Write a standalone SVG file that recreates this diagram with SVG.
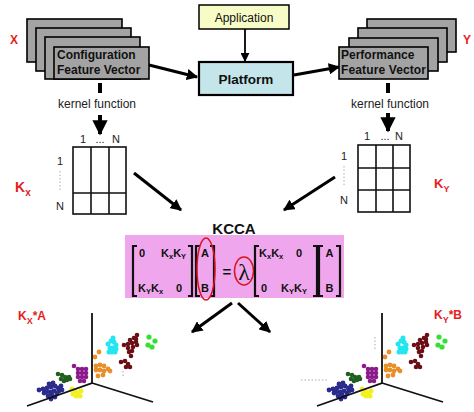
<svg xmlns="http://www.w3.org/2000/svg" xmlns:xlink="http://www.w3.org/1999/xlink" width="474" height="412" viewBox="0 0 474 412">
<style>
  text { font-family: "Liberation Sans", Arial, sans-serif; }
  .stk { fill: #a3a3a3; stroke: #000; stroke-width: 1.6; }
  .lbl { font-size: 12px; font-weight: bold; fill: #111; }
  .red { fill: #e41e1e; font-weight: bold; }
  .kf { font-size: 12px; fill: #222; }
  .idx { font-size: 11px; fill: #222; }
  .mx { font-size: 11px; font-weight: bold; fill: #111; }
  .sub { font-size: 7.5px; font-weight: bold; }
  .br { fill: none; stroke: #111; stroke-width: 2.2; }
  .grid { fill: #fff; stroke: #111; stroke-width: 1.6; }
  .conn { stroke: #000; stroke-width: 3; fill: none; }
  .thick { stroke: #000; stroke-width: 4; fill: none; }
  .ax { stroke: #111; stroke-width: 1.8; fill: none; }
  .dot { stroke: none; }
  .dotted { stroke: #aaa; stroke-width: 1; stroke-dasharray: 1.5 2; fill: none; }
</style>
<defs>
  <marker id="ah" viewBox="0 0 10 10" refX="9" refY="5" markerWidth="3.8" markerHeight="3.8" orient="auto" markerUnits="strokeWidth">
    <path d="M0,0 L10,5 L0,10 Z" fill="#000"/>
  </marker>
  <marker id="ahs" viewBox="0 0 10 10" refX="9" refY="5" markerWidth="5" markerHeight="5" orient="auto" markerUnits="strokeWidth">
    <path d="M0,0 L10,5 L0,10 Z" fill="#000"/>
  </marker>
  <g id="scatter">
    <g fill="#2b2b8c" class="dot">
      <circle cx="39" cy="390" r="2.4"/><circle cx="43" cy="389" r="2.4"/><circle cx="47" cy="388" r="2.4"/><circle cx="51" cy="387" r="2.4"/>
      <circle cx="49" cy="384" r="2.4"/><circle cx="53" cy="383" r="2.4"/><circle cx="55" cy="386" r="2.4"/><circle cx="58" cy="388" r="2.4"/>
      <circle cx="61" cy="386" r="2.4"/><circle cx="46" cy="392" r="2.4"/><circle cx="50" cy="392" r="2.4"/><circle cx="54" cy="391" r="2.4"/>
      <circle cx="57" cy="393" r="2.4"/><circle cx="52" cy="395" r="2.4"/><circle cx="48" cy="396" r="2.4"/><circle cx="55" cy="397" r="2.4"/>
      <circle cx="51" cy="399" r="2.4"/><circle cx="44" cy="393" r="2.4"/><circle cx="59" cy="391" r="2.4"/><circle cx="62" cy="390" r="2.4"/>
    </g>
    <g fill="#f2f020" class="dot">
      <circle cx="72" cy="389" r="2.5"/><circle cx="75" cy="391" r="2.5"/><circle cx="78" cy="393" r="2.5"/><circle cx="80" cy="396" r="2.5"/>
      <circle cx="76" cy="396" r="2.5"/><circle cx="73" cy="394" r="2.5"/><circle cx="81" cy="391" r="2.5"/>
    </g>
    <g fill="#1f5f1f" class="dot">
      <circle cx="58" cy="374" r="2.3"/><circle cx="62" cy="375" r="2.3"/><circle cx="65" cy="377" r="2.3"/><circle cx="61" cy="379" r="2.3"/>
      <circle cx="67" cy="380" r="2.3"/><circle cx="70" cy="379" r="2.3"/><circle cx="64" cy="381" r="2.3"/><circle cx="69" cy="377" r="2.3"/>
    </g>
    <g fill="#8b1a8b" class="dot">
      <circle cx="74" cy="366" r="2.3"/>
      <circle cx="78" cy="369" r="2.3"/><circle cx="82" cy="369" r="2.3"/><circle cx="86" cy="369" r="2.3"/>
      <circle cx="78" cy="373" r="2.3"/><circle cx="82" cy="373" r="2.3"/><circle cx="86" cy="373" r="2.3"/>
      <circle cx="78" cy="377" r="2.3"/><circle cx="82" cy="377" r="2.3"/><circle cx="86" cy="377" r="2.3"/>
      <circle cx="80" cy="381" r="2.3"/><circle cx="84" cy="381" r="2.3"/>
    </g>
    <g fill="#e89028" class="dot">
      <circle cx="95" cy="357" r="2.4"/><circle cx="99" cy="352" r="2.4"/><circle cx="96" cy="366" r="2.4"/><circle cx="100" cy="365" r="2.4"/>
      <circle cx="104" cy="366" r="2.4"/><circle cx="108" cy="369" r="2.4"/><circle cx="96" cy="370" r="2.4"/><circle cx="100" cy="370" r="2.4"/>
      <circle cx="104" cy="371" r="2.4"/><circle cx="110" cy="371" r="2.4"/><circle cx="98" cy="376" r="2.4"/><circle cx="103" cy="375" r="2.4"/>
    </g>
    <g fill="#22e6f2" class="dot">
      <circle cx="108" cy="344" r="2.5"/><circle cx="111" cy="341" r="2.5"/><circle cx="114" cy="342" r="2.5"/><circle cx="116" cy="345" r="2.5"/>
      <circle cx="110" cy="348" r="2.5"/><circle cx="113" cy="348" r="2.5"/><circle cx="116" cy="349" r="2.5"/><circle cx="109" cy="352" r="2.5"/>
      <circle cx="112" cy="352" r="2.5"/><circle cx="115" cy="352" r="2.5"/><circle cx="113" cy="338" r="2.5"/>
    </g>
    <g fill="#6b0f14" class="dot">
      <circle cx="124" cy="345" r="2.3"/><circle cx="128" cy="344" r="2.3"/><circle cx="132" cy="343" r="2.3"/><circle cx="136" cy="342" r="2.3"/>
      <circle cx="130" cy="340" r="2.3"/><circle cx="134" cy="338" r="2.3"/><circle cx="137" cy="335" r="2.3"/><circle cx="128" cy="348" r="2.3"/>
      <circle cx="133" cy="347" r="2.3"/><circle cx="137" cy="345" r="2.3"/><circle cx="129" cy="352" r="2.3"/><circle cx="132" cy="351" r="2.3"/>
      <circle cx="131" cy="356" r="2.3"/><circle cx="121" cy="362" r="2.3"/><circle cx="125" cy="361" r="2.3"/><circle cx="128" cy="364" r="2.3"/>
      <circle cx="130" cy="367" r="2.3"/><circle cx="126" cy="367" r="2.3"/><circle cx="136" cy="339" r="2.3"/>
    </g>
    <g fill="#35e035" class="dot">
      <circle cx="149" cy="337" r="2.6"/><circle cx="155" cy="341" r="2.6"/><circle cx="148" cy="345" r="2.6"/><circle cx="152" cy="347" r="2.6"/>
    </g>
    <path class="ax" d="M92,313 V383 L27,406 M92,383 L153,402"/>
  </g>
</defs>
<rect width="474" height="412" fill="#fff"/>

<g id="connectors">
  <line class="conn" x1="149" y1="65" x2="197" y2="77" marker-end="url(#ah)"/>
  <line class="conn" x1="294" y1="75" x2="339" y2="67" marker-end="url(#ah)"/>
  <line stroke="#000" stroke-width="1.8" x1="245" y1="29" x2="245" y2="61" marker-end="url(#ahs)"/>
  <line class="thick" x1="100" y1="83" x2="100" y2="93"/>
  <line class="thick" x1="100" y1="115" x2="100" y2="134" marker-end="url(#ah)"/>
  <line class="thick" x1="388" y1="83" x2="388" y2="93"/>
  <line class="thick" x1="388" y1="113" x2="388" y2="131" marker-end="url(#ah)"/>
  <line class="conn" x1="134" y1="173" x2="181" y2="210" marker-end="url(#ah)"/>
  <line class="conn" x1="335" y1="177" x2="284" y2="210" marker-end="url(#ah)"/>
  <line class="conn" x1="232" y1="303" x2="192" y2="332" marker-end="url(#ah)"/>
  <line class="conn" x1="238" y1="303" x2="270" y2="332" marker-end="url(#ah)"/>
</g>

<g id="config-stack">
  <rect class="stk" x="27" y="19" width="95" height="43"/>
  <rect class="stk" x="36" y="28" width="95" height="43"/>
  <rect class="stk" x="45" y="37" width="95" height="42"/>
  <rect class="stk" x="54" y="47" width="95" height="32"/>
  <text class="lbl" x="57" y="59">Configuration</text>
  <text class="lbl" x="57" y="74">Feature Vector</text>
  <text class="red" x="10" y="44" font-size="12">X</text>
</g>

<g id="application">
  <rect x="199" y="5" width="90" height="24" fill="#f7fbc6" stroke="#000" stroke-width="1.5"/>
  <text x="244" y="22" font-size="12" text-anchor="middle" fill="#111">Application</text>
</g>

<g id="platform">
  <rect x="199" y="62" width="94" height="33" fill="#c4e6ea" stroke="#000" stroke-width="2.2"/>
  <text x="246" y="84" font-size="13.5" font-weight="bold" text-anchor="middle" fill="#111">Platform</text>
</g>

<g id="perf-stack">
  <rect class="stk" x="367" y="19" width="89" height="33"/>
  <rect class="stk" x="358" y="28" width="89" height="34"/>
  <rect class="stk" x="349" y="38" width="89" height="33"/>
  <rect class="stk" x="339" y="47" width="89" height="32"/>
  <text class="lbl" x="341" y="59">Performance</text>
  <text class="lbl" x="341" y="74" textLength="85">Feature Vector</text>
  <text class="red" x="463" y="44" font-size="12">Y</text>
</g>

<g id="kernel-left">
  <text class="kf" x="97" y="108" text-anchor="middle">kernel function</text>
</g>
<g id="kernel-right">
  <text class="kf" x="390" y="108" text-anchor="middle">kernel function</text>
</g>

<g id="kx-matrix">
  <rect class="grid" x="73" y="147" width="53" height="67"/>
  <path class="grid" d="M91,147 V214 M109,147 V214 M73,193 H126"/>
  <text class="idx" x="80" y="143">1</text>
  <text class="idx" x="100" y="143" text-anchor="middle">...</text>
  <text class="idx" x="112" y="143">N</text>
  <text class="idx" x="57" y="165">1</text>
  <path class="dotted" stroke="#777" d="M60,171 V190"/>
  <text class="idx" x="56" y="210">N</text>
  <text class="red" x="15" y="192" font-size="14">K<tspan font-size="10" dy="4">x</tspan></text>
</g>

<g id="ky-matrix">
  <rect class="grid" x="358" y="145" width="52" height="67"/>
  <path class="grid" d="M376,145 V212 M393,145 V212 M358,168 H410 M358,190 H410"/>
  <text class="idx" x="364" y="140">1</text>
  <text class="idx" x="385" y="140" text-anchor="middle">...</text>
  <text class="idx" x="395" y="140">N</text>
  <text class="idx" x="341" y="160">1</text>
  <path class="dotted" stroke="#777" d="M344,166 V186"/>
  <text class="idx" x="340" y="204">N</text>
  <text class="red" x="434" y="188" font-size="13">K<tspan font-size="9" dy="4">Y</tspan></text>
</g>

<g id="kcca">
  <rect x="125" y="235" width="219" height="63" fill="#f0a6ec"/>
  <text x="234" y="234" font-size="15" font-weight="bold" text-anchor="middle" fill="#111">KCCA</text>
  <path class="br" d="M137,246 H133 V296 H137 M188,246 H192 V296 H188"/>
  <text class="mx" x="139" y="257">0</text>
  <text class="mx" x="161" y="257">K<tspan class="sub" dy="2">x</tspan><tspan dy="-2">K</tspan><tspan class="sub" dy="2">Y</tspan></text>
  <text class="mx" x="138" y="292">K<tspan class="sub" dy="2">Y</tspan><tspan dy="-2">K</tspan><tspan class="sub" dy="2">x</tspan></text>
  <text class="mx" x="176" y="292">0</text>
  <path class="br" d="M200,246 H196 V296 H200 M210,246 H214 V296 H210"/>
  <text class="mx" x="205" y="257" text-anchor="middle">A</text>
  <text class="mx" x="205" y="292" text-anchor="middle">B</text>
  <ellipse cx="206" cy="269" rx="9" ry="31" fill="none" stroke="#d8141e" stroke-width="1.5"/>
  <text x="227" y="277" font-size="15" font-weight="bold" text-anchor="middle" fill="#111">=</text>
  <ellipse cx="244" cy="271" rx="9.5" ry="14" fill="none" stroke="#d8141e" stroke-width="1.5"/>
  <text x="244" y="280" font-size="24" text-anchor="middle" fill="#111" style="font-family:'Liberation Serif','Times New Roman',serif">λ</text>
  <path class="br" d="M259,246 H255 V296 H259 M313,246 H317 V296 H313"/>
  <text class="mx" x="259" y="257">K<tspan class="sub" dy="2">x</tspan><tspan dy="-2">K</tspan><tspan class="sub" dy="2">x</tspan></text>
  <text class="mx" x="296" y="257">0</text>
  <text class="mx" x="261" y="292">0</text>
  <text class="mx" x="281" y="292">K<tspan class="sub" dy="2">Y</tspan><tspan dy="-2">K</tspan><tspan class="sub" dy="2">Y</tspan></text>
  <path class="br" d="M323,246 H319 V296 H323 M336,246 H340 V296 H336"/>
  <text class="mx" x="329.5" y="257" text-anchor="middle">A</text>
  <text class="mx" x="329.5" y="292" text-anchor="middle">B</text>
</g>

<g id="plot-left">
  <use xlink:href="#scatter" href="#scatter"/>
  <path class="dotted" d="M123,371 V378"/>
  <text class="red" x="18" y="320" font-size="12">K<tspan font-size="9" dy="4">X</tspan><tspan dy="-4">*A</tspan></text>
</g>

<g id="plot-right">
  <use xlink:href="#scatter" href="#scatter" transform="translate(290,0)"/>
  <path class="dotted" d="M375,337 V350 M301,380 H327"/>
  <text class="red" x="434" y="319" font-size="12">K<tspan font-size="9" dy="4">Y</tspan><tspan dy="-4">*B</tspan></text>
</g>
</svg>
